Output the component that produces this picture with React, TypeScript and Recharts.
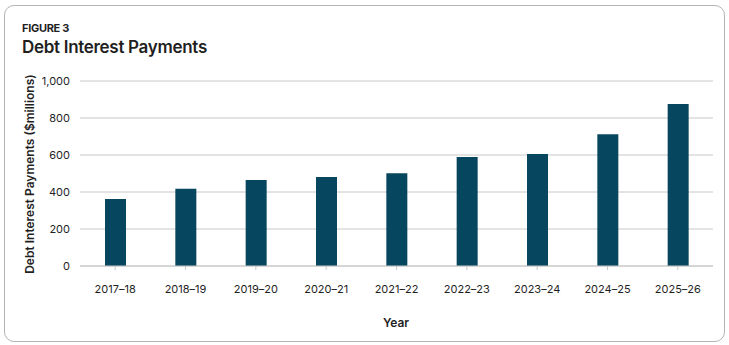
import { Bar, BarChart, CartesianGrid, XAxis, YAxis } from "recharts";

const BAR_COLOR = "#07465f";
const GRID = "#c8c8c8";
const INK = "#1f1f1f";
const FONT = "Inter, 'Noto Sans', sans-serif";

// Fiscal years and debt interest payments ($ millions)
const YEARS = [
  "2017–18",
  "2018–19",
  "2019–20",
  "2020–21",
  "2021–22",
  "2022–23",
  "2023–24",
  "2024–25",
  "2025–26",
];
const PAYMENTS = [362, 418, 465, 481, 501, 589, 605, 712, 876];
const Y_TICKS = [0, 200, 400, 600, 800, 1000];

const data = YEARS.map((year, i) => ({ year, value: PAYMENTS[i] }));

export default function App() {
  return (
    <div
      style={{
        position: "fixed",
        left: 0,
        top: 0,
        width: 729,
        height: 345,
        background: "#fff",
        fontFamily: FONT,
        color: INK,
      }}
    >
      <div
        style={{
          position: "absolute",
          left: 4,
          top: 5,
          width: 719,
          height: 335,
          border: "1px solid #b4b4b4",
          borderRadius: 10,
        }}
      />
      <div
        style={{
          position: "absolute",
          left: 22,
          top: 21,
          fontSize: 11,
          fontWeight: 700,
          letterSpacing: -0.3,
        }}
      >
        FIGURE 3
      </div>
      <div
        style={{
          position: "absolute",
          left: 22,
          top: 37,
          fontSize: 17,
          fontWeight: 600,
          letterSpacing: -0.3,
        }}
      >
        Debt Interest Payments
      </div>
      <div
        style={{
          position: "absolute",
          left: 29,
          top: 174,
          transform: "translate(-50%, -50%) rotate(-90deg)",
          whiteSpace: "nowrap",
          fontSize: 12,
          fontWeight: 600,
        }}
      >
        Debt Interest Payments ($millions)
      </div>
      <div
        style={{
          position: "absolute",
          left: 396,
          top: 322,
          transform: "translate(-50%, -50%)",
          fontSize: 12,
          fontWeight: 600,
        }}
      >
        Year
      </div>
      <div style={{ position: "absolute", left: 0, top: 0 }}>
        <BarChart
          width={729}
          height={345}
          data={data}
          margin={{ top: 81, right: 16, bottom: 49, left: 30 }}
        >
          <CartesianGrid vertical={false} stroke={GRID} />
          <XAxis
            dataKey="year"
            height={30}
            stroke={GRID}
            tickSize={4}
            tickMargin={15}
            tick={{ fill: INK, fontSize: 11, fontFamily: FONT }}
            interval={0}
          />
          <YAxis
            width={50}
            domain={[0, 1000]}
            ticks={Y_TICKS}
            axisLine={false}
            tickLine={false}
            tickSize={0}
            tickMargin={10}
            tickFormatter={(v) => Number(v).toLocaleString("en-US")}
            tick={{ fill: INK, fontSize: 11, fontFamily: FONT }}
          />
          <Bar
            dataKey="value"
            fill={BAR_COLOR}
            barSize={21}
            isAnimationActive={false}
          />
        </BarChart>
      </div>
    </div>
  );
}
